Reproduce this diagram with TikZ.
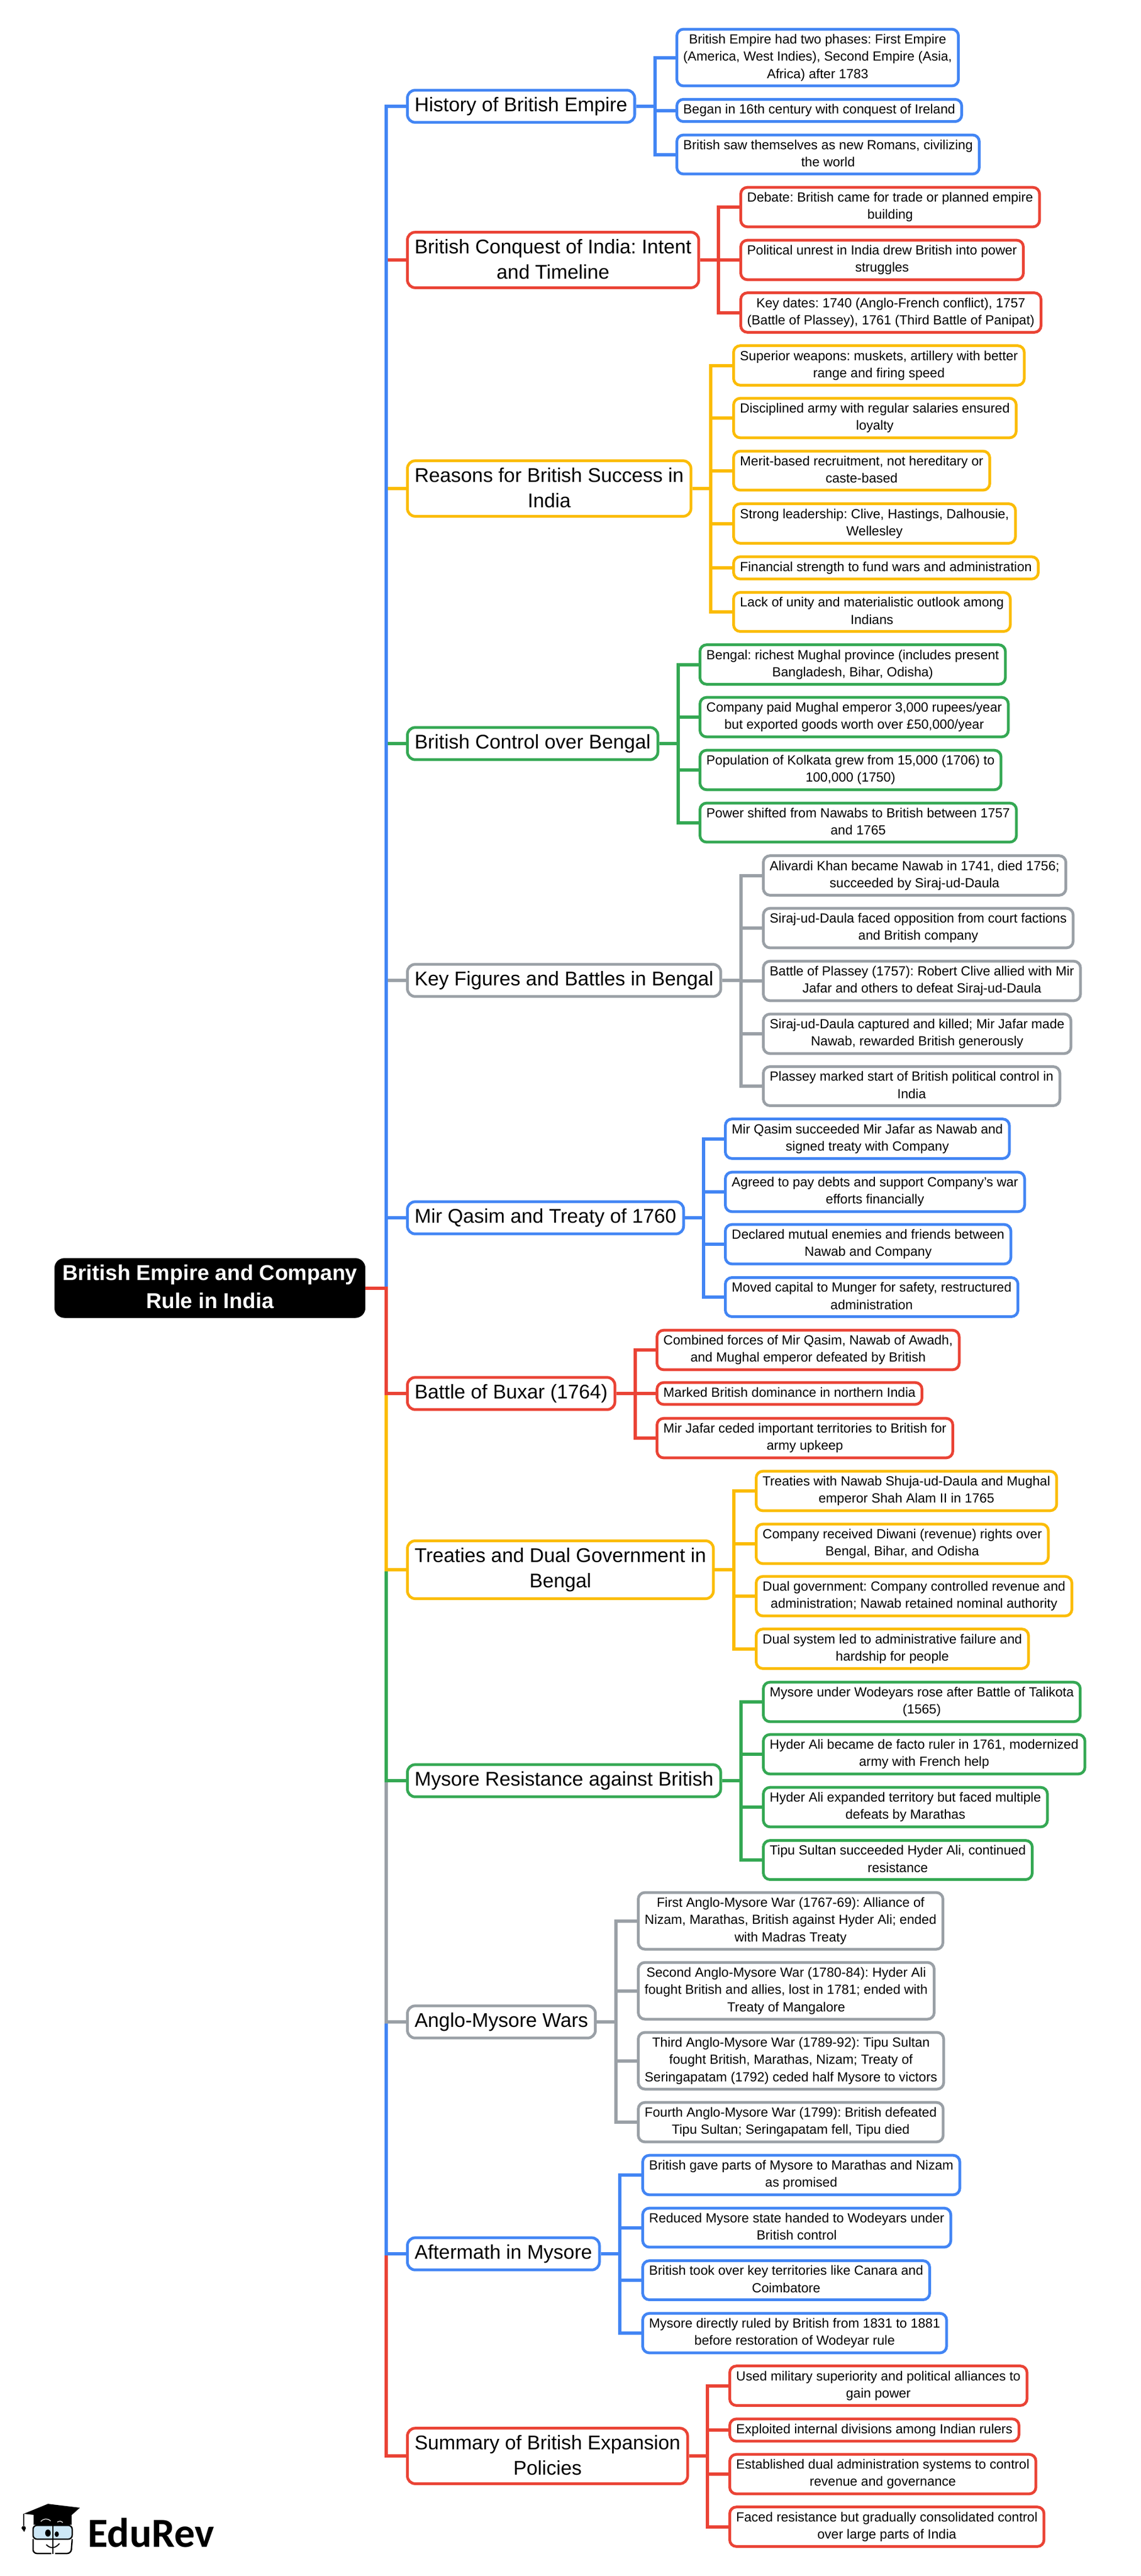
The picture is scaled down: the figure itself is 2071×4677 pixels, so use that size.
\documentclass[tikz,border=0pt]{standalone}
\usepackage{fontspec}
\setmainfont{Liberation Sans}
\newfontfamily\logofont{Carlito}
\frenchspacing
\definecolor{blueline}{HTML}{4285F4}
\definecolor{redline}{HTML}{EA4335}
\definecolor{yellowline}{HTML}{FBBC04}
\definecolor{greenline}{HTML}{34A853}
\definecolor{grayline}{HTML}{9AA0A6}
\tikzset{
    rootbox/.style={fill=black,text=white,rounded corners=18pt,anchor=center,align=center,inner xsep=14.5pt,inner ysep=11.5pt,
        font=\fontsize{39}{51.6}\selectfont\bfseries,execute at end node={\vrule height 0pt depth 5.6pt width 0pt}},
    topicbox/.style={draw=#1,fill=white,line width=5pt,rounded corners=14pt,anchor=west,align=center,inner xsep=13.2pt,inner ysep=12.4pt,
        font=\fontsize{36}{46.6}\selectfont,execute at end node={\vrule height 0pt depth 3.2pt width 0pt}},
    leafbox/.style={draw=#1,fill=white,line width=5pt,rounded corners=12pt,anchor=west,align=center,inner xsep=11.7pt,inner ysep=9pt,
        font=\fontsize{24}{31.3}\selectfont,execute at end node={\vrule height 0pt depth 4.2pt width 0pt}},
    link/.style={draw=#1,line width=6pt,line join=miter}
}
\begin{document}
\begin{tikzpicture}[x=1pt,y=-1pt]
        \useasboundingbox (0,0) rectangle (2071,4677);
        \node[rootbox] (root) at (381,2338.5) {British Empire and Company\\Rule in India};
        \coordinate (trunk) at (701,2338.5);

        % topics
        \node[topicbox=blueline] (hist) at (737,193) {History of British Empire};
        \node[topicbox=redline] (conq) at (737,472) {British Conquest of India: Intent\\and Timeline};
        \node[topicbox=yellowline] (reas) at (737,887) {Reasons for British Success in\\India};
        \node[topicbox=greenline] (ctrl) at (737,1350) {British Control over Bengal};
        \node[topicbox=grayline] (keyf) at (737,1780) {Key Figures and Battles in Bengal};
        \node[topicbox=blueline] (qasm) at (737,2211) {Mir Qasim and Treaty of 1760};
        \node[topicbox=redline] (buxr) at (737,2530) {Battle of Buxar (1764)};
        \node[topicbox=yellowline] (trea) at (737,2850) {Treaties and Dual Government in\\Bengal};
        \node[topicbox=greenline] (myso) at (737,3233) {Mysore Resistance against British};
        \node[topicbox=grayline] (angl) at (737,3671) {Anglo-Mysore Wars};
        \node[topicbox=blueline] (aftr) at (737,4092) {Aftermath in Mysore};
        \node[topicbox=redline] (summ) at (737,4459) {Summary of British Expansion\\Policies};

        % leaves
        \node[leafbox=blueline] (hista) at (1226,104.5) {British Empire had two phases: First Empire\\(America, West Indies), Second Empire (Asia,\\Africa) after 1783};
        \node[leafbox=blueline] (histb) at (1226,200.5) {Began in 16th century with conquest of Ireland};
        \node[leafbox=blueline] (histc) at (1226,280.5) {British saw themselves as new Romans, civilizing\\the world};

        \node[leafbox=redline] (conqa) at (1342,376) {Debate: British came for trade or planned empire\\building};
        \node[leafbox=redline] (conqb) at (1342,472) {Political unrest in India drew British into power\\struggles};
        \node[leafbox=redline] (conqc) at (1342,567.5) {Key dates: 1740 (Anglo-French conflict), 1757\\(Battle of Plassey), 1761 (Third Battle of Panipat)};

        \node[leafbox=yellowline] (reasa) at (1329,663.5) {Superior weapons: muskets, artillery with better\\range and firing speed};
        \node[leafbox=yellowline] (reasb) at (1329,759) {Disciplined army with regular salaries ensured\\loyalty};
        \node[leafbox=yellowline] (reasc) at (1329,854.5) {Merit-based recruitment, not hereditary or\\caste-based};
        \node[leafbox=yellowline] (reasd) at (1329,950.5) {Strong leadership: Clive, Hastings, Dalhousie,\\Wellesley};
        \node[leafbox=yellowline] (rease) at (1329,1031) {Financial strength to fund wars and administration};
        \node[leafbox=yellowline] (reasf) at (1329,1111) {Lack of unity and materialistic outlook among\\Indians};

        \node[leafbox=greenline] (ctrla) at (1268,1206.5) {Bengal: richest Mughal province (includes present\\Bangladesh, Bihar, Odisha)};
        \node[leafbox=greenline] (ctrlb) at (1268,1302) {Company paid Mughal emperor 3,000 rupees/year\\but exported goods worth over £50,000/year};
        \node[leafbox=greenline] (ctrlc) at (1268,1398) {Population of Kolkata grew from 15,000 (1706) to\\100,000 (1750)};
        \node[leafbox=greenline] (ctrld) at (1268,1493.5) {Power shifted from Nawabs to British between 1757\\and 1765};

        \node[leafbox=grayline] (keyfa) at (1383,1589.5) {Alivardi Khan became Nawab in 1741, died 1756;\\succeeded by Siraj-ud-Daula};
        \node[leafbox=grayline] (keyfb) at (1383,1685) {Siraj-ud-Daula faced opposition from court factions\\and British company};
        \node[leafbox=grayline] (keyfc) at (1383,1781) {Battle of Plassey (1757): Robert Clive allied with Mir\\Jafar and others to defeat Siraj-ud-Daula};
        \node[leafbox=grayline] (keyfd) at (1383,1877) {Siraj-ud-Daula captured and killed; Mir Jafar made\\Nawab, rewarded British generously};
        \node[leafbox=grayline] (keyfe) at (1383,1972) {Plassey marked start of British political control in\\India};

        \node[leafbox=blueline] (qasma) at (1314,2067.5) {Mir Qasim succeeded Mir Jafar as Nawab and\\signed treaty with Company};
        \node[leafbox=blueline] (qasmb) at (1314,2164) {Agreed to pay debts and support Company's war\\efforts financially};
        \node[leafbox=blueline] (qasmc) at (1314,2259) {Declared mutual enemies and friends between\\Nawab and Company};
        \node[leafbox=blueline] (qasmd) at (1314,2355) {Moved capital to Munger for safety, restructured\\administration};

        \node[leafbox=redline] (buxra) at (1190,2451) {Combined forces of Mir Qasim, Nawab of Awadh,\\and Mughal emperor defeated by British};
        \node[leafbox=redline] (buxrb) at (1190,2530) {Marked British dominance in northern India};
        \node[leafbox=redline] (buxrc) at (1190,2611) {Mir Jafar ceded important territories to British for\\army upkeep};

        \node[leafbox=yellowline] (treaa) at (1370,2707) {Treaties with Nawab Shuja-ud-Daula and Mughal\\emperor Shah Alam II in 1765};
        \node[leafbox=yellowline] (treab) at (1370,2803) {Company received Diwani (revenue) rights over\\Bengal, Bihar, and Odisha};
        \node[leafbox=yellowline] (treac) at (1370,2898) {Dual government: Company controlled revenue and\\administration; Nawab retained nominal authority};
        \node[leafbox=yellowline] (tread) at (1370,2993.5) {Dual system led to administrative failure and\\hardship for people};

        \node[leafbox=greenline] (mysoa) at (1383,3090) {Mysore under Wodeyars rose after Battle of Talikota\\(1565)};
        \node[leafbox=greenline] (mysob) at (1383,3185) {Hyder Ali became de facto ruler in 1761, modernized\\army with French help};
        \node[leafbox=greenline] (mysoc) at (1383,3281) {Hyder Ali expanded territory but faced multiple\\defeats by Marathas};
        \node[leafbox=greenline] (mysod) at (1383,3377) {Tipu Sultan succeeded Hyder Ali, continued\\resistance};

        \node[leafbox=grayline] (angla) at (1156,3487.5) {First Anglo-Mysore War (1767-69): Alliance of\\Nizam, Marathas, British against Hyder Ali; ended\\with Madras Treaty};
        \node[leafbox=grayline] (anglb) at (1156,3614.5) {Second Anglo-Mysore War (1780-84): Hyder Ali\\fought British and allies, lost in 1781; ended with\\Treaty of Mangalore};
        \node[leafbox=grayline] (anglc) at (1156,3741.5) {Third Anglo-Mysore War (1789-92): Tipu Sultan\\fought British, Marathas, Nizam; Treaty of\\Seringapatam (1792) ceded half Mysore to victors};
        \node[leafbox=grayline] (angld) at (1156,3853) {Fourth Anglo-Mysore War (1799): British defeated\\Tipu Sultan; Seringapatam fell, Tipu died};

        \node[leafbox=blueline] (aftra) at (1164,3949) {British gave parts of Mysore to Marathas and Nizam\\as promised};
        \node[leafbox=blueline] (aftrb) at (1164,4044.5) {Reduced Mysore state handed to Wodeyars under\\British control};
        \node[leafbox=blueline] (aftrc) at (1164,4140) {British took over key territories like Canara and\\Coimbatore};
        \node[leafbox=blueline] (aftrd) at (1164,4236) {Mysore directly ruled by British from 1831 to 1881\\before restoration of Wodeyar rule};

        \node[leafbox=redline] (summa) at (1322,4331.5) {Used military superiority and political alliances to\\gain power};
        \node[leafbox=redline] (summb) at (1322,4412) {Exploited internal divisions among Indian rulers};
        \node[leafbox=redline] (summc) at (1322,4492) {Established dual administration systems to control\\revenue and governance};
        \node[leafbox=redline] (summd) at (1322,4587.5) {Faced resistance but gradually consolidated control\\over large parts of India};

        % trunk, the later lines lie on top
        \draw[link=blueline] (root.east) -- (trunk) |- (qasm.west);
        \draw[link=grayline] (root.east) -- (trunk) |- (keyf.west);
        \draw[link=greenline] (root.east) -- (trunk) |- (ctrl.west);
        \draw[link=yellowline] (root.east) -- (trunk) |- (reas.west);
        \draw[link=redline] (root.east) -- (trunk) |- (conq.west);
        \draw[link=blueline] (root.east) -- (trunk) |- (hist.west);
        \draw[link=redline] (root.east) -- (trunk) |- (summ.west);
        \draw[link=blueline] (root.east) -- (trunk) |- (aftr.west);
        \draw[link=grayline] (root.east) -- (trunk) |- (angl.west);
        \draw[link=greenline] (root.east) -- (trunk) |- (myso.west);
        \draw[link=yellowline] (root.east) -- (trunk) |- (trea.west);
        \draw[link=redline] (root.east) -- (trunk) |- (buxr.west);

        % branches
        \coordinate (histjoin) at (1189,193);
        \draw[link=blueline] (hist.east) -- (histjoin) |- (hista.west);
        \draw[link=blueline] (hist.east) -- (histjoin) |- (histb.west);
        \draw[link=blueline] (hist.east) -- (histjoin) |- (histc.west);
        \coordinate (conqjoin) at (1304,472);
        \draw[link=redline] (conq.east) -- (conqjoin) |- (conqa.west);
        \draw[link=redline] (conq.east) -- (conqjoin) |- (conqb.west);
        \draw[link=redline] (conq.east) -- (conqjoin) |- (conqc.west);
        \coordinate (reasjoin) at (1290,887);
        \draw[link=yellowline] (reas.east) -- (reasjoin) |- (reasa.west);
        \draw[link=yellowline] (reas.east) -- (reasjoin) |- (reasb.west);
        \draw[link=yellowline] (reas.east) -- (reasjoin) |- (reasc.west);
        \draw[link=yellowline] (reas.east) -- (reasjoin) |- (reasd.west);
        \draw[link=yellowline] (reas.east) -- (reasjoin) |- (rease.west);
        \draw[link=yellowline] (reas.east) -- (reasjoin) |- (reasf.west);
        \coordinate (ctrljoin) at (1231,1350);
        \draw[link=greenline] (ctrl.east) -- (ctrljoin) |- (ctrla.west);
        \draw[link=greenline] (ctrl.east) -- (ctrljoin) |- (ctrlb.west);
        \draw[link=greenline] (ctrl.east) -- (ctrljoin) |- (ctrlc.west);
        \draw[link=greenline] (ctrl.east) -- (ctrljoin) |- (ctrld.west);
        \coordinate (keyfjoin) at (1345,1780);
        \draw[link=grayline] (keyf.east) -- (keyfjoin) |- (keyfa.west);
        \draw[link=grayline] (keyf.east) -- (keyfjoin) |- (keyfb.west);
        \draw[link=grayline] (keyf.east) -- (keyfjoin) |- (keyfc.west);
        \draw[link=grayline] (keyf.east) -- (keyfjoin) |- (keyfd.west);
        \draw[link=grayline] (keyf.east) -- (keyfjoin) |- (keyfe.west);
        \coordinate (qasmjoin) at (1277,2211);
        \draw[link=blueline] (qasm.east) -- (qasmjoin) |- (qasma.west);
        \draw[link=blueline] (qasm.east) -- (qasmjoin) |- (qasmb.west);
        \draw[link=blueline] (qasm.east) -- (qasmjoin) |- (qasmc.west);
        \draw[link=blueline] (qasm.east) -- (qasmjoin) |- (qasmd.west);
        \coordinate (buxrjoin) at (1153,2530);
        \draw[link=redline] (buxr.east) -- (buxrjoin) |- (buxra.west);
        \draw[link=redline] (buxr.east) -- (buxrjoin) |- (buxrb.west);
        \draw[link=redline] (buxr.east) -- (buxrjoin) |- (buxrc.west);
        \coordinate (treajoin) at (1332,2850);
        \draw[link=yellowline] (trea.east) -- (treajoin) |- (treaa.west);
        \draw[link=yellowline] (trea.east) -- (treajoin) |- (treab.west);
        \draw[link=yellowline] (trea.east) -- (treajoin) |- (treac.west);
        \draw[link=yellowline] (trea.east) -- (treajoin) |- (tread.west);
        \coordinate (mysojoin) at (1345,3233);
        \draw[link=greenline] (myso.east) -- (mysojoin) |- (mysoa.west);
        \draw[link=greenline] (myso.east) -- (mysojoin) |- (mysob.west);
        \draw[link=greenline] (myso.east) -- (mysojoin) |- (mysoc.west);
        \draw[link=greenline] (myso.east) -- (mysojoin) |- (mysod.west);
        \coordinate (angljoin) at (1118,3671);
        \draw[link=grayline] (angl.east) -- (angljoin) |- (angla.west);
        \draw[link=grayline] (angl.east) -- (angljoin) |- (anglb.west);
        \draw[link=grayline] (angl.east) -- (angljoin) |- (anglc.west);
        \draw[link=grayline] (angl.east) -- (angljoin) |- (angld.west);
        \coordinate (aftrjoin) at (1125,4092);
        \draw[link=blueline] (aftr.east) -- (aftrjoin) |- (aftra.west);
        \draw[link=blueline] (aftr.east) -- (aftrjoin) |- (aftrb.west);
        \draw[link=blueline] (aftr.east) -- (aftrjoin) |- (aftrc.west);
        \draw[link=blueline] (aftr.east) -- (aftrjoin) |- (aftrd.west);
        \coordinate (summjoin) at (1284,4459);
        \draw[link=redline] (summ.east) -- (summjoin) |- (summa.west);
        \draw[link=redline] (summ.east) -- (summjoin) |- (summb.west);
        \draw[link=redline] (summ.east) -- (summjoin) |- (summc.west);
        \draw[link=redline] (summ.east) -- (summjoin) |- (summd.west);

        % logo
        \fill (61,4566) -- (130,4566) -- (130,4584) -- (61,4584) -- cycle;
        \fill (87,4546) -- (145,4553) -- (117,4578) -- (100,4570) -- (43,4564) -- cycle;
        \draw[white,line width=1.2pt] (74,4578) .. controls (80,4572) and (86,4572) .. (92,4577) (104,4579) .. controls (108,4577) and (111,4577) .. (114,4580);
        \draw[black,line width=2.5pt,fill={rgb,255:red,205;green,231;blue,246},rounded corners=7pt] (60,4585) rectangle (131,4610);
        \draw[black,line width=2.5pt,rounded corners=7pt] (60,4610) -- (60,4636) -- (93,4636) (100,4636) -- (129,4636) -- (131,4610);
        \draw[black,line width=2.5pt] (96,4583) -- (96,4637);
        \fill (87,4599) ellipse (5 and 6.5);
        \fill (103,4601) ellipse (3.8 and 5);
        \draw[black,line width=2pt] (84,4620) .. controls (92,4628) and (100,4627) .. (108,4618);
        \draw[black,line width=1.6pt] (43,4564) -- (43,4586);
        \fill (44,4597) -- (39,4590) .. controls (39,4585) and (47,4585) .. (47,4590) -- cycle;
        \node[anchor=base west,inner sep=0pt,font=\fontsize{75}{78}\logofont\bfseries] (edurev) at (159,4624) {EduRev};
\end{tikzpicture}
\end{document}
